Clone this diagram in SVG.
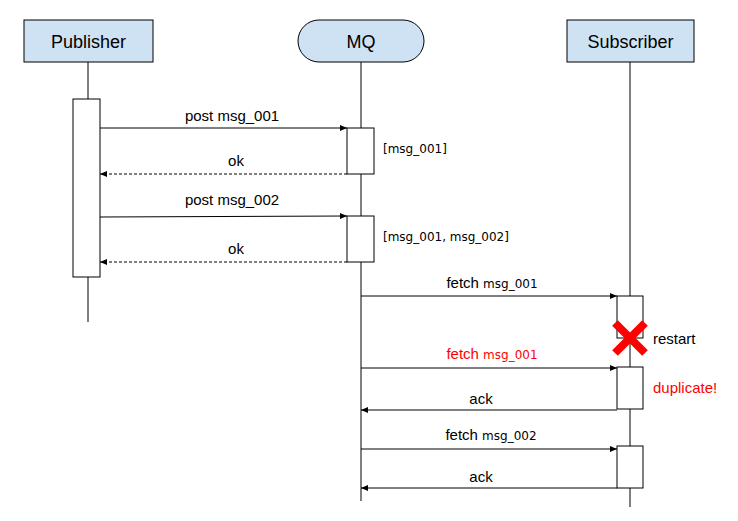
<svg xmlns="http://www.w3.org/2000/svg" width="738" height="521" viewBox="0 0 738 521">
<style>
.hd{fill:#cfe2f3;stroke:#000;stroke-width:1}
.ll{stroke:#000;stroke-width:1}
.act{fill:#fff;stroke:#000;stroke-width:1}
.t{font-family:"Liberation Sans",Arial,sans-serif;font-size:15px;fill:#000;text-anchor:middle}
.h{font-size:18px}
.s{font-family:"DejaVu Sans",sans-serif;font-size:12px}
.n{font-family:"DejaVu Sans",sans-serif;font-size:12px;fill:#000}
.m{stroke:#000;stroke-width:1;fill:none;marker-end:url(#ah)}
.d{stroke-dasharray:3,2}
</style>
<defs>
<marker id="ah" markerWidth="8" markerHeight="6" refX="7" refY="3" orient="auto" markerUnits="userSpaceOnUse"><path d="M0,0 L7,3 L0,6 z" fill="#000"/></marker>
</defs>
<g id="publisher">
<line class="ll" x1="88" y1="62" x2="88" y2="322"/>
<rect class="hd" x="24" y="20" width="129" height="42"/>
<text class="t h" x="88.5" y="48">Publisher</text>
<rect class="act" x="73" y="99" width="27" height="178"/>
</g>
<g id="mq">
<line class="ll" x1="361" y1="62" x2="361" y2="501"/>
<rect class="hd" x="298" y="20" width="126" height="42" rx="21"/>
<text class="t h" x="361" y="48">MQ</text>
<rect class="act" x="347" y="128" width="27" height="46"/>
<rect class="act" x="347" y="216" width="27" height="46"/>
<text class="n" x="383" y="153">[msg_001]</text>
<text class="n" x="383" y="241">[msg_001, msg_002]</text>
</g>
<g id="subscriber">
<line class="ll" x1="630" y1="62" x2="630" y2="507"/>
<rect class="hd" x="567" y="20" width="127" height="42"/>
<text class="t h" x="630.5" y="48">Subscriber</text>
<rect class="act" x="617" y="296" width="26" height="42"/>
<rect class="act" x="617" y="367" width="26" height="42"/>
<rect class="act" x="617" y="446" width="26" height="42"/>
<g id="restart-x">
<path d="M615,323 L645,353 M645,323 L615,353" stroke="#f00" stroke-width="8"/>
</g>
<text class="t" x="653" y="344" style="text-anchor:start">restart</text>
<text class="t" x="653" y="393" style="text-anchor:start;fill:#f00">duplicate!</text>
</g>
<g id="connectors">
<line class="m" x1="100" y1="128" x2="347" y2="128"/>
<text class="t" x="232" y="121">post msg_001</text>
<line class="m d" x1="347" y1="174" x2="100" y2="174"/>
<text class="t" x="236" y="166">ok</text>
<line class="m" x1="100" y1="217" x2="347" y2="216"/>
<text class="t" x="232" y="205">post msg_002</text>
<line class="m d" x1="347" y1="262" x2="100" y2="262"/>
<text class="t" x="236" y="254">ok</text>
<line class="m" x1="361" y1="296" x2="617" y2="296"/>
<text class="t" x="492" y="288">fetch <tspan class="s">msg_001</tspan></text>
<line class="m" x1="361" y1="368" x2="617" y2="368"/>
<text class="t" x="492" y="359" style="fill:#f00">fetch <tspan class="s">msg_001</tspan></text>
<line class="m" x1="617" y1="410" x2="361" y2="410"/>
<text class="t" x="481" y="404">ack</text>
<line class="m" x1="361" y1="449" x2="617" y2="449"/>
<text class="t" x="491" y="440">fetch <tspan class="s">msg_002</tspan></text>
<line class="m" x1="617" y1="488" x2="361" y2="488"/>
<text class="t" x="481" y="482">ack</text>
</g>
</svg>
